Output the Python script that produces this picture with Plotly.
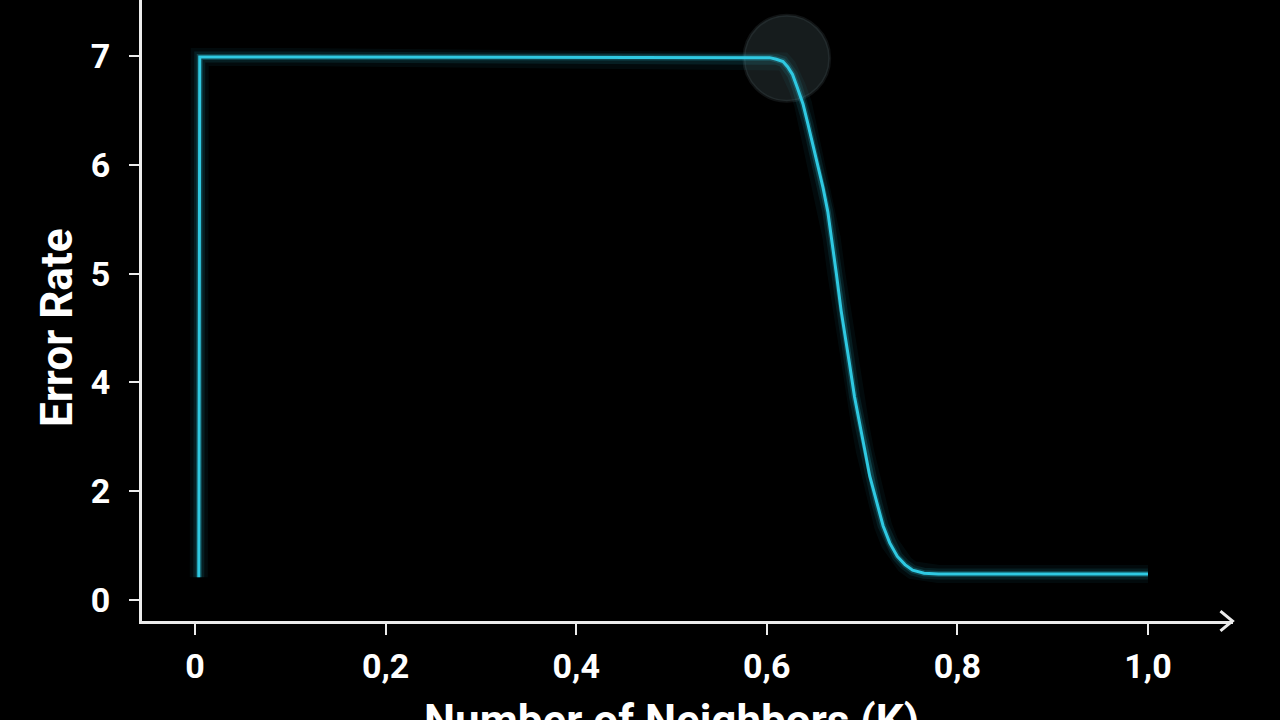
import plotly.graph_objects as go

# data
# (the y ticks are evenly spaced in the picture, so the line is given in tick-slot units)
k_values = [0.004, 0.005, 0.1, 0.2, 0.3, 0.4, 0.5, 0.58, 0.593, 0.603, 0.61, 0.617, 0.622,
            0.627, 0.632, 0.638, 0.643, 0.648, 0.654, 0.659, 0.664, 0.668, 0.673, 0.678,
            0.683, 0.687, 0.692, 0.698, 0.703, 0.708, 0.715, 0.722, 0.729, 0.737, 0.745,
            0.753, 0.765, 0.78, 0.9, 1.0]
error_rate = [0.21, 4.99, 4.99, 4.99, 4.99, 4.99, 4.99, 4.99, 4.99, 4.985, 4.97, 4.95, 4.90,
              4.83, 4.71, 4.56, 4.38, 4.19, 3.99, 3.79, 3.57, 3.33, 3.00, 2.66,
              2.40, 2.16, 1.87, 1.61, 1.37, 1.14, 0.905, 0.683, 0.525, 0.40, 0.325,
              0.274, 0.246, 0.239, 0.239, 0.239]

x_tickvals = [0, 0.2, 0.4, 0.6, 0.8, 1.0]
x_ticktext = ["0", "0,2", "0,4", "0,6", "0,8", "1,0"]
y_tickvals = [0, 1, 2, 3, 4, 5]
y_ticktext = ["0", "2", "4", "5", "6", "7"]

highlight_k = 0.621
highlight_err = 4.98

FONT = "Roboto"
CYAN = "#2fc9e2"
AXIS = "#ececec"

fig = go.Figure()

# glow layers under the main line
for w, op in [(18, 0.05), (11, 0.10), (6, 0.22)]:
    fig.add_trace(go.Scatter(x=k_values, y=error_rate, mode="lines",
                             line=dict(color=CYAN, width=w),
                             opacity=op, hoverinfo="skip", showlegend=False))
fig.add_trace(go.Scatter(x=k_values, y=error_rate, mode="lines",
                         line=dict(color=CYAN, width=3),
                         showlegend=False))

# highlight circle around the knee
fig.add_shape(type="circle", xref="x", yref="y", layer="below",
              x0=highlight_k - 0.045, x1=highlight_k + 0.045,
              y0=highlight_err - 0.395, y1=highlight_err + 0.395,
              fillcolor="rgba(80,100,105,0.28)",
              line=dict(color="rgba(110,130,135,0.15)", width=3))

# arrow head at the end of the x axis
fig.add_shape(type="path", xref="paper", yref="paper",
              path="M 0.9885,0.016 L 0.9995,0 L 0.9885,-0.016",
              line=dict(color=AXIS, width=3))

fig.add_annotation(x=0.5, y=-0.193, xref="x", yref="y", yanchor="top",
                   yshift=-72, text="<b>Number of Neighbors (K)</b>", showarrow=False,
                   font=dict(family=FONT, size=44, color="white"))
fig.add_annotation(x=-0.0556, y=2.5, xref="x", yref="y", xanchor="right",
                   xshift=-57, text="<b>Error Rate</b>", textangle=-90, showarrow=False,
                   font=dict(family=FONT, size=44, color="white"))

fig.update_xaxes(range=[-0.0556, 1.0892], tickvals=x_tickvals, ticktext=x_ticktext,
                 showgrid=False, zeroline=False, showline=True, linecolor=AXIS, linewidth=3,
                 ticks="outside", ticklen=11, tickwidth=2, tickcolor=AXIS,
                 ticklabelstandoff=2, automargin=False,
                 tickfont=dict(family=FONT, size=34, color="white", weight="bold"))
fig.update_yaxes(range=[-0.193, 5.515], tickvals=y_tickvals, ticktext=y_ticktext,
                 showgrid=False, zeroline=False, showline=True, linecolor=AXIS, linewidth=3,
                 ticks="outside", ticklen=10, tickwidth=2, tickcolor=AXIS,
                 ticklabelstandoff=12, automargin=False,
                 tickfont=dict(family=FONT, size=34, color="white", weight="bold"))

fig.update_layout(width=1280, height=720,
                  margin=dict(l=142, r=47, t=0, b=99, autoexpand=False),
                  paper_bgcolor="black", plot_bgcolor="black",
                  showlegend=False)

fig.write_html("out.html", config={"displayModeBar": False},
               post_script="document.body.style.margin='0';document.body.style.background='black';")
